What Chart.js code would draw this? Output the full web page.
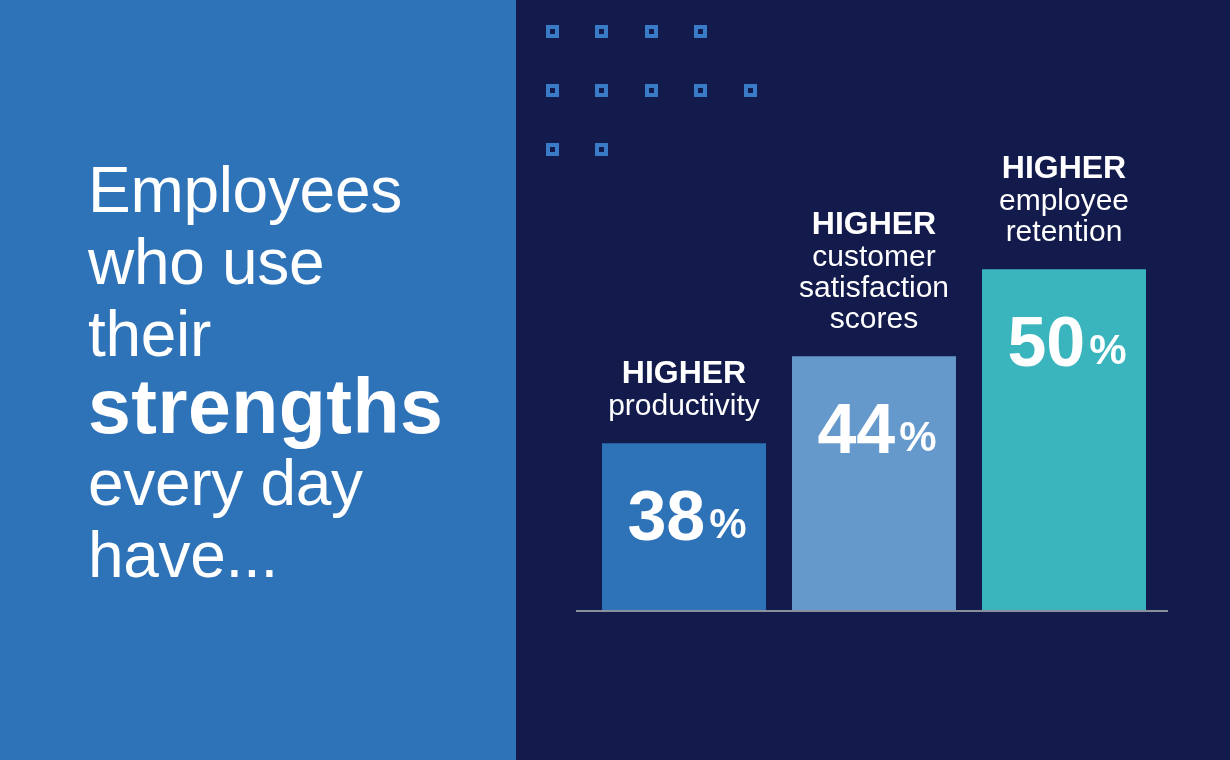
<!DOCTYPE html>
<html>
<head>
<meta charset="utf-8">
<script src="https://cdn.jsdelivr.net/npm/chart.js@4"></script>
<style>
    html, body { margin: 0; padding: 0; }
    body { width: 1230px; height: 760px; position: relative; overflow: hidden; background: #131b4d; font-family: "Liberation Sans", Arial, sans-serif; }
    #left { position: absolute; left: 0; top: 0; width: 516px; height: 760px; background: #2e72b8; }
    #headline { position: absolute; left: 88px; top: 154px; color: #fff; font-size: 64px; line-height: 72px; letter-spacing: -0.3px; }
    #headline b { font-size: 77px; letter-spacing: 0.5px; }
    #right { position: absolute; left: 516px; top: 0; width: 714px; height: 760px; }
    .sq { position: absolute; width: 5px; height: 5px; border: 4.5px solid #3a7bc8; background: #131b4d; }
</style>
</head>
<body>
<div id="left">
    <div id="headline">Employees<br>who use<br>their<br><b>strengths</b><br>every day<br>have...</div>
</div>
<div id="right">
    <canvas id="chart" width="714" height="760"></canvas>
</div>
<script>
//Datos de la grafica
const categorias = ["productivity", "customer satisfaction scores", "employee retention"];
const lineasEtiqueta = [["productivity"], ["customer", "satisfaction", "scores"], ["employee", "retention"]];
const prefijo = "HIGHER";
const valores = [38, 44, 50];
const colores = ["#2e72b8", "#6598cb", "#3bb5bd"];

//cuadritos decorativos (cantidad por fila)
const filasCuadros = [4, 5, 2];
filasCuadros.forEach((n, fila) => {
    for (let i = 0; i < n; i++) {
        const d = document.createElement("div");
        d.className = "sq";
        d.style.left = (30 + i * 49.4) + "px";
        d.style.top = (25 + fila * 59) + "px";
        document.getElementById("right").appendChild(d);
    }
});

//Plugin para la linea base y los textos
const textosBarras = {
    id: "textosBarras",
    afterDatasetsDraw(chart) {
        const ctx = chart.ctx;
        const area = chart.chartArea;

        // linea base
        ctx.save();
        ctx.strokeStyle = "#8a8f9e";
        ctx.lineWidth = 2;
        ctx.beginPath();
        ctx.moveTo(area.left - 13, area.bottom + 1);
        ctx.lineTo(area.right + 9, area.bottom + 1);
        ctx.stroke();

        const meta = chart.getDatasetMeta(0);
        meta.data.forEach((bar, i) => {
            const x = bar.x;
            const top = bar.y;
            ctx.fillStyle = "#ffffff";
            ctx.textAlign = "center";
            ctx.textBaseline = "middle";

            // etiqueta encima
            const lineas = lineasEtiqueta[i];
            let y = top - 37 - (lineas.length - 1) * 31;
            ctx.font = "bold 32px 'Liberation Sans', Arial, sans-serif";
            ctx.fillText(prefijo, x, y - 32);
            ctx.font = "30px 'Liberation Sans', Arial, sans-serif";
            lineas.forEach(l => {
                ctx.fillText(l, x, y);
                y += 31;
            });

            // valor dentro de la barra
            const num = String(valores[i]);
            ctx.font = "bold 70px 'Liberation Sans', Arial, sans-serif";
            const wNum = ctx.measureText(num).width;
            ctx.font = "bold 42px 'Liberation Sans', Arial, sans-serif";
            const wPct = ctx.measureText("%").width;
            const x0 = x + 3 - (wNum + wPct + 4) / 2;
            ctx.textAlign = "left";
            ctx.textBaseline = "alphabetic";
            ctx.font = "bold 70px 'Liberation Sans', Arial, sans-serif";
            ctx.fillText(num, x0, top + 97);
            ctx.font = "bold 42px 'Liberation Sans', Arial, sans-serif";
            ctx.fillText("%", x0 + wNum + 4, top + 95);
        });
        ctx.restore();
    }
};

new Chart(document.getElementById("chart").getContext("2d"), {
    type: "bar",
    data: {
        labels: categorias,
        datasets: [{
            data: valores,
            backgroundColor: colores,
            borderWidth: 0,
            barPercentage: 0.863,
            categoryPercentage: 1
        }]
    },
    options: {
        responsive: false,
        animation: false,
        layout: { padding: { left: 73, right: 71, top: 30, bottom: 150 } },
        scales: {
            x: { display: false },
            y: { display: false, min: 26.5, max: 66.5 }
        },
        plugins: {
            legend: { display: false },
            tooltip: { enabled: false }
        }
    },
    plugins: [textosBarras]
});
</script>
</body>
</html>
